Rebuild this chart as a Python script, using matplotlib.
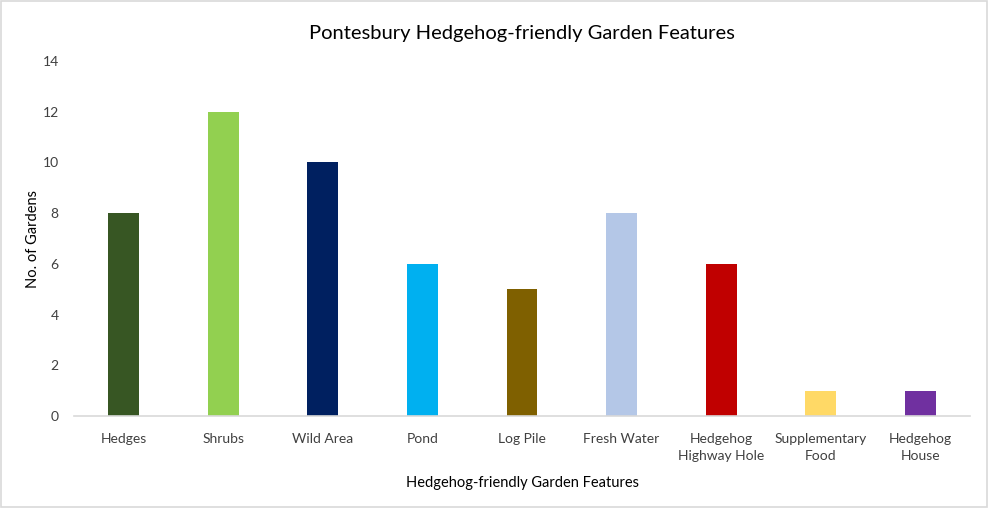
import matplotlib
matplotlib.use("Agg")
import matplotlib.pyplot as plt

features = ["Hedges", "Shrubs", "Wild Area", "Pond", "Log Pile", "Fresh Water",
            "Hedgehog\nHighway Hole", "Supplementary\nFood", "Hedgehog\nHouse"]
gardens = [8, 12, 10, 6, 5, 8, 6, 1, 1]
colors = ["#375623", "#92D050", "#002060", "#00B0F0", "#7F6000",
          "#B4C7E7", "#C00000", "#FFD966", "#7030A0"]

plt.rcParams["font.family"] = ["Lato", "DejaVu Sans"]

fig = plt.figure(figsize=(9.88, 5.08), dpi=100)
ax = fig.add_axes([74 / 988, 1 - 416 / 508, 896 / 988, 355 / 508])

x = range(len(features))
ax.bar(x, gardens, width=0.31, color=colors)

ax.set_xlim(-0.5, len(features) - 0.5)
ax.set_ylim(0, 14)
ax.set_yticks(range(0, 15, 2))
ax.set_xticks(list(x))
ax.set_xticklabels(features, fontsize=10, color="#404040", linespacing=1.55)
ax.tick_params(axis="y", labelsize=10, labelcolor="#404040", length=0, pad=11)
ax.tick_params(axis="x", length=0, pad=12)

for side in ("top", "right", "left"):
    ax.spines[side].set_visible(False)
ax.spines["bottom"].set_color("#D9D9D9")
ax.spines["bottom"].set_linewidth(1.2)

ax.set_title("Pontesbury Hedgehog-friendly Garden Features", fontsize=14.5,
             color="#000000", pad=16)
ax.set_xlabel("Hedgehog-friendly Garden Features", fontsize=10.5, labelpad=10)
ax.set_ylabel("No. of Gardens", fontsize=10.5, labelpad=2)

fig.patches.append(plt.Rectangle((0.001, 0.001), 0.998, 0.997, transform=fig.transFigure,
                                 fill=False, edgecolor="#D9D9D9", linewidth=1.2))

fig.savefig("out.png", dpi=100)
plt.close(fig)
